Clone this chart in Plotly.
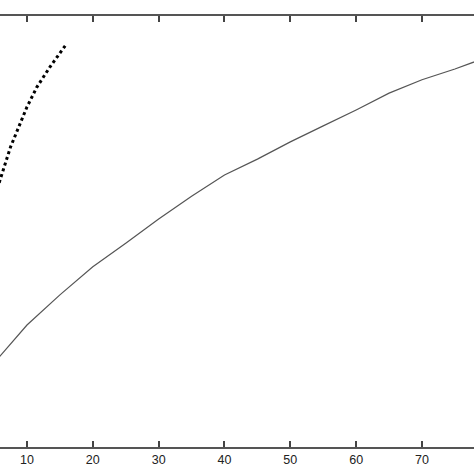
import plotly.graph_objects as go

# solid curve
x_solid = [5, 10, 15, 20, 25, 30, 35, 40, 45, 50, 55, 60, 65, 70, 75, 80]
y_solid = [19.5, 28.3, 35.3, 41.8, 47.3, 52.9, 58.2, 63.1, 66.8, 70.8, 74.5, 78.2, 82.1, 85.2, 87.7, 90.5]

# dotted curve
x_dot = [5.5, 7.5, 9, 10, 11.5, 13.5, 16]
y_dot = [60.0, 69.6, 75.2, 78.9, 83.5, 88.2, 93.5]

x_ticks = [10, 20, 30, 40, 50, 60, 70]

fig = go.Figure()
fig.add_trace(go.Scatter(x=x_solid, y=y_solid, mode='lines',
                         line=dict(color='#555555', width=1.2)))
fig.add_trace(go.Scatter(x=x_dot, y=y_dot, mode='lines',
                         line=dict(color='black', width=3, dash='dot')))

fig.update_xaxes(range=[5.9, 77.9], tickvals=x_ticks, ticks='inside', ticklen=6,
                 tickcolor='#444444', tickwidth=1.5, showline=True, linecolor='#555555',
                 linewidth=1.5, mirror='allticks', showgrid=False, zeroline=False,
                 tickfont=dict(family='Liberation Sans, Arial', size=12.5, color='#222222'))
fig.update_yaxes(range=[0, 100], showline=False, showgrid=False, zeroline=False,
                 showticklabels=False, ticks='')

fig.update_layout(width=474, height=474, showlegend=False,
                  margin=dict(l=0, r=0, t=16, b=27),
                  plot_bgcolor='white', paper_bgcolor='white')

# drop the default page margin so the figure sits at the window corner
fig.write_html("out.html", config={'displayModeBar': False},
               post_script="document.body.style.margin='0px';")
